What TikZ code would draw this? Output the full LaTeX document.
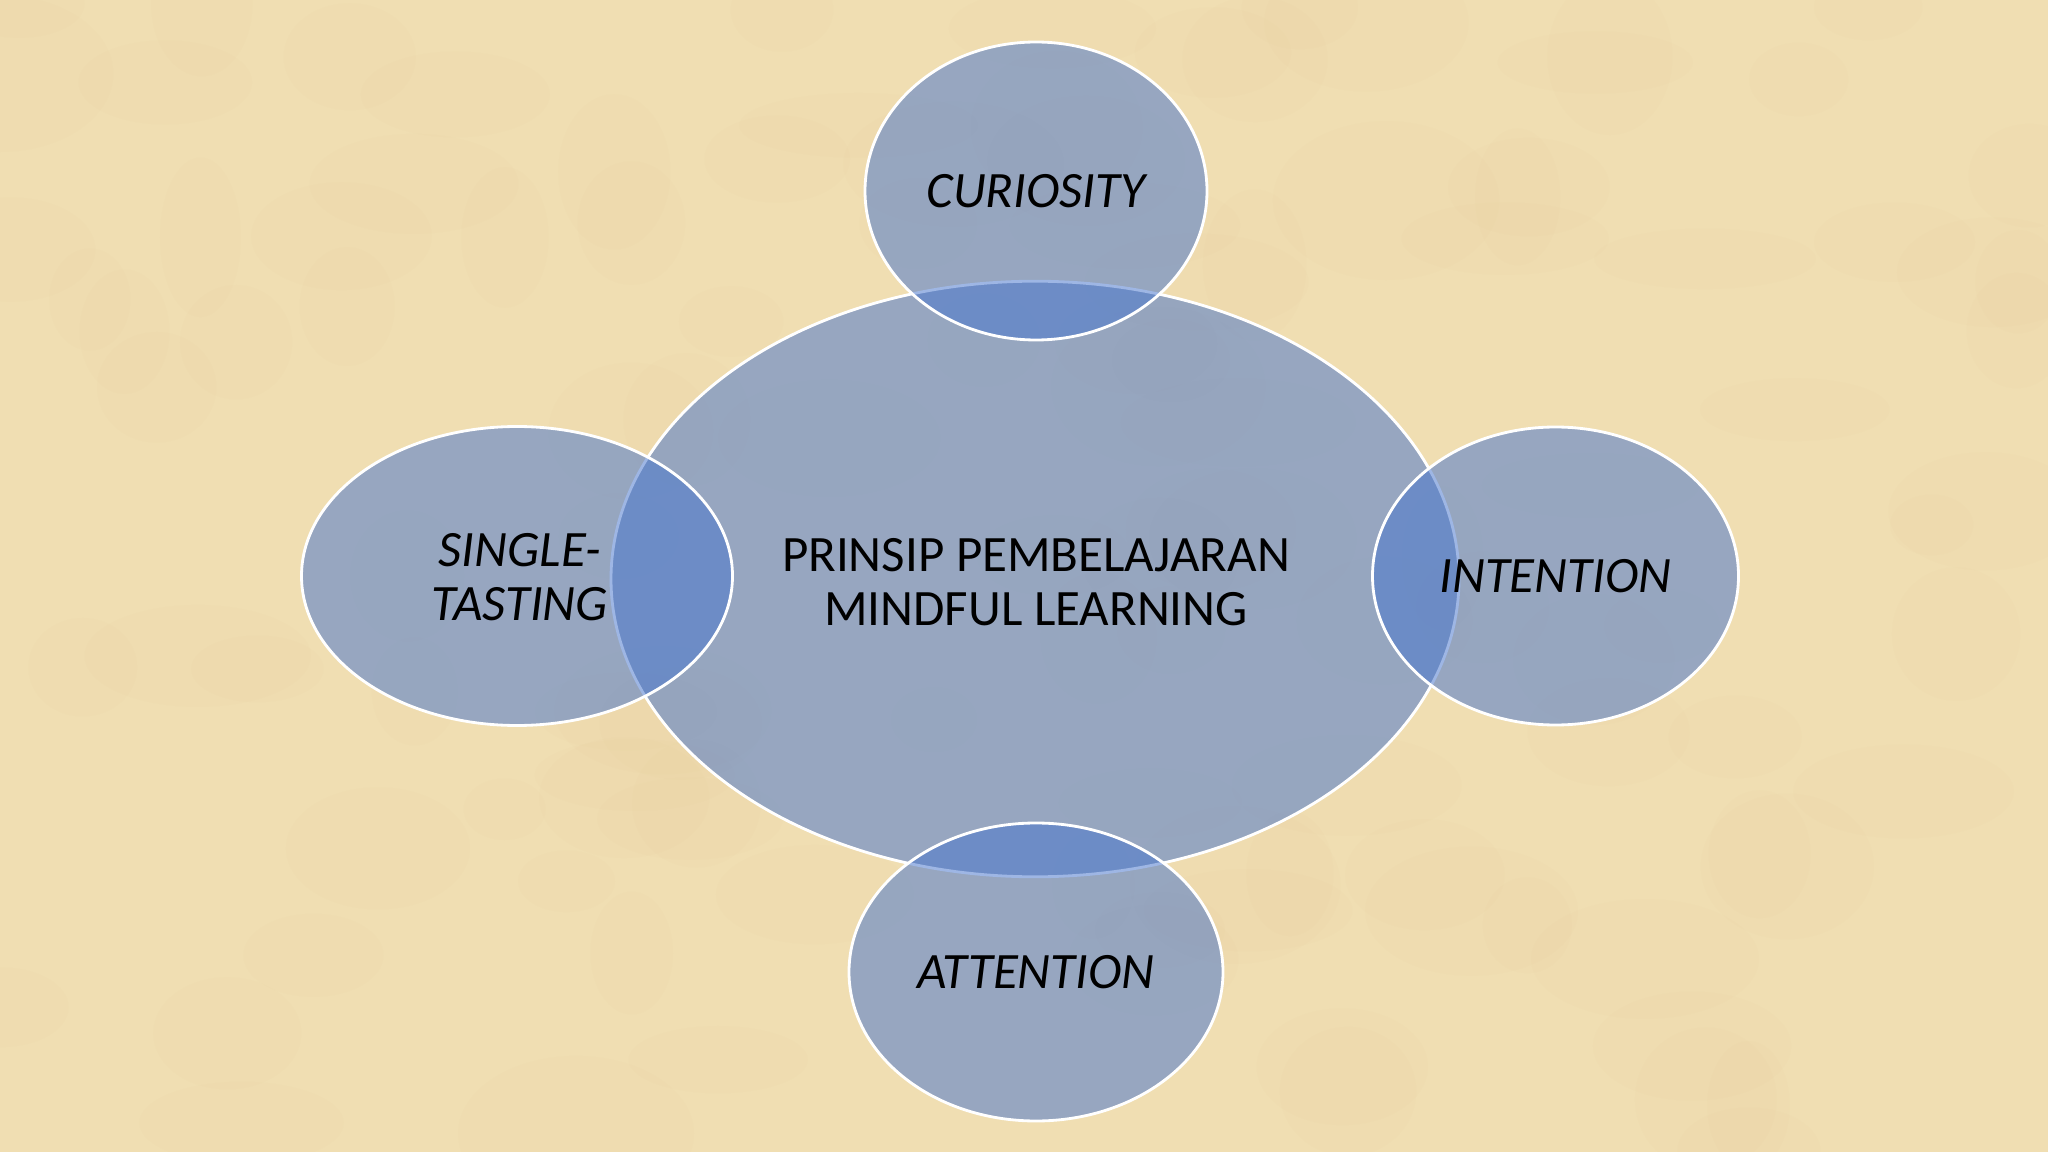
\documentclass[tikz,border=0pt]{standalone}
\usepackage{fontspec}
\setmainfont{Carlito}
\definecolor{bgbeige}{RGB}{240,222,178}
\definecolor{bgdark}{RGB}{225,200,148}
\definecolor{bubble}{RGB}{72,118,205}
\begin{document}
\begin{tikzpicture}[x=0.01cm,y=-0.01cm,
  bub/.style={fill=bubble,fill opacity=0.53,draw=white,draw opacity=1,line width=0.8pt},
  lbl/.style={text=black,font=\fontsize{14.5pt}{15.2pt}\selectfont,align=center,inner sep=0pt},
  olbl/.style={lbl,font=\fontsize{14.5pt}{15.2pt}\selectfont\itshape}]
\fill[bgbeige] (0,0) rectangle (2048,1152);
% very soft texture
\pgfmathsetseed{11}
\begin{scope}
\clip (0,0) rectangle (2048,1152);
\foreach \i in {1,...,120}{
  \pgfmathsetmacro{\xx}{2048*rnd}
  \pgfmathsetmacro{\yy}{1152*rnd}
  \pgfmathsetmacro{\rr}{40+80*rnd}
  \pgfmathsetmacro{\ss}{30+50*rnd}
  \fill[bgdark,opacity=0.06] (\xx,\yy) ellipse [x radius=\rr, y radius=\ss];
}
\end{scope}
\useasboundingbox (0,0) rectangle (2048,1152);
% bubbles
\draw[bub] (1035,579) ellipse [x radius=424, y radius=297.8];
\draw[bub] (1036,191) ellipse [x radius=171, y radius=149];
\draw[bub] (517,576) ellipse [x radius=215.5, y radius=149.5];
\draw[bub] (1555.5,576) ellipse [x radius=183, y radius=149];
\draw[bub] (1036,972) ellipse [x radius=187, y radius=149];
% labels
\node[lbl] (center) at (1036,582) {PRINSIP PEMBELAJARAN\\MINDFUL LEARNING};
\node[olbl] (cur) at (1036,191) {CURIOSITY};
\node[olbl] (single) at (520,577) {SINGLE-\\TASTING};
\node[olbl] (int) at (1555.5,576) {INTENTION};
\node[olbl] (att) at (1036,972) {ATTENTION};
\end{tikzpicture}
\end{document}
